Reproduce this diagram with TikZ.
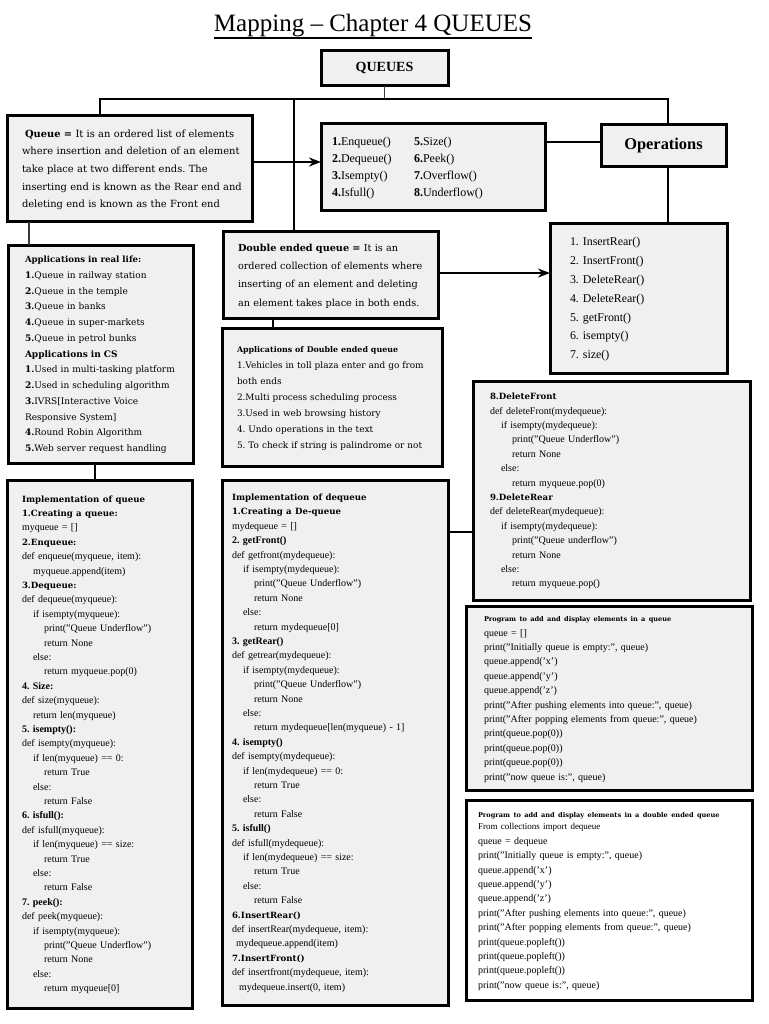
\documentclass[tikz,border=0pt]{standalone}
\usepackage{fontspec}
\setmainfont{Liberation Serif}
\newfontfamily\wideserif{DejaVu Serif}
\usepackage{tikz}
\usetikzlibrary{arrows.meta, positioning, calc}
\definecolor{qgray}{HTML}{F0F0F0}
\definecolor{qline}{HTML}{000000}
\definecolor{qstem}{HTML}{3A3A3A}
\frenchspacing
\newcommand{\boxlines}[1]{\begin{tabular}{@{}l@{}}#1\end{tabular}}
\newcommand{\hd}[2][8.6]{{\wideserif\bfseries\fontsize{#1}{12}\selectfont #2}}
\newcommand{\indA}{\hspace*{11pt}}
\newcommand{\indB}{\hspace*{22pt}}
\newcommand{\codefont}{\fontsize{10}{14.4}\selectfont}

\begin{document}
\begin{tikzpicture}[x=1pt, y=-1pt,
    qbox/.style={draw=qline, line width=3pt, fill=qgray, anchor=north west,
      outer sep=0pt, inner ysep=0pt, align=left},
    conn/.style={draw=qline, line width=2.7pt},
    stem/.style={draw=qstem, line width=1.3pt},
    arrowline/.style={conn, -{Stealth[length=12pt, width=9pt]}}
  ]
  \path[use as bounding box, fill=white] (0,0) rectangle (768,1024);

  % title
  \node[anchor=base, inner sep=0pt, font=\fontsize{25}{30}\selectfont] (title) at (373,32)
    {Mapping -- Chapter 4 QUEUES};
  \draw[line width=1.6pt] ([yshift=-6pt]title.base west) -- ([yshift=-6pt]title.base east);

  % top row
  \node[qbox, minimum width=127pt, minimum height=35pt,
    font=\bfseries\fontsize{14}{16}\selectfont] (queues) at (321,51) {QUEUES};
  \node[qbox, text width=215pt, inner xsep=15pt, minimum height=106pt,
    font=\wideserif\fontsize{9.9}{17.7}\selectfont] (qdef) at (7,116) {\boxlines{%
    \hspace*{3pt}\textbf{Queue =} It is an ordered list of elements\\
    where insertion and deletion of an element\\
    take place at two different ends. The\\
    inserting end is known as the Rear end and\\
    deleting end is known as the Front end}};
  \node[qbox, text width=202pt, inner xsep=11pt, minimum height=87pt,
    font=\fontsize{12}{17}\selectfont] (opslist) at (321,124) {%
    \begin{tabular}{@{}p{82pt}@{}l@{}}
      \textbf{1.}Enqueue() & \textbf{5.}Size()\\
      \textbf{2.}Dequeue() & \textbf{6.}Peek()\\
      \textbf{3.}Isempty() & \textbf{7.}Overflow()\\
      \textbf{4.}Isfull()  & \textbf{8.}Underflow()
    \end{tabular}};
  \node[qbox, minimum width=125pt, minimum height=42pt,
    font=\bfseries\fontsize{16.4}{20}\selectfont] (operations) at (601,125) {Operations};
  \node[qbox, text width=137pt, inner xsep=20pt, minimum height=149pt,
    font=\fontsize{11.9}{18.8}\selectfont] (dqops) at (550,224) {\boxlines{%
    1. InsertRear()\\ 2. InsertFront()\\ 3. DeleteRear()\\ 4. DeleteRear()\\
    5. getFront()\\ 6. isempty()\\ 7. size()}};

  % applications
  \node[qbox, text width=151pt, inner xsep=17pt, minimum height=218pt,
    font=\wideserif\fontsize{9}{15.75}\selectfont] (apps) at (8,245) {\boxlines{%
    \textbf{\fontsize{8.6}{12}\selectfont Applications in real life:}\\
    \textbf{1.}Queue in railway station\\
    \textbf{2.}Queue in the temple\\
    \textbf{3.}Queue in banks\\
    \textbf{4.}Queue in super-markets\\
    \textbf{5.}Queue in petrol bunks\\
    \textbf{Applications in CS}\\
    \textbf{1.}Used in multi-tasking platform\\
    \textbf{2.}Used in scheduling algorithm\\
    \textbf{3.}IVRS[Interactive Voice\\
    Responsive System]\\
    \textbf{4.}Round Robin Algorithm\\
    \textbf{5.}Web server request handling}};
  \node[qbox, text width=185pt, inner xsep=15pt, minimum height=86pt,
    font=\wideserif\fontsize{9.7}{18.3}\selectfont] (deq) at (223,232) {\boxlines{%
    \textbf{Double ended queue =} It is an\\
    ordered collection of elements where\\
    inserting of an element and deleting\\
    an element takes place in both ends.}};
  \node[qbox, text width=190pt, inner xsep=15pt, minimum height=138pt,
    font=\wideserif\fontsize{8.9}{16}\selectfont] (deqapps) at (222,328) {\boxlines{%
    \hd[7.9]{Applications of Double ended queue}\\
    1.Vehicles in toll plaza enter and go from\\
    both ends\\
    2.Multi process scheduling process\\
    3.Used in web browsing history\\
    4. Undo operations in the text\\
    5. To check if string is palindrome or not}};

  % implementations
  \node[qbox, text width=155pt, inner xsep=15pt, minimum height=528pt,
    font=\codefont] (implq) at (7,480) {\boxlines{%
    \hd{Implementation of queue}\\
    \hd{1.Creating a queue:}\\
    myqueue = []\\
    \hd{2.Enqueue:}\\
    def enqueue(myqueue, item):\\
    \indA myqueue.append(item)\\
    \hd{3.Dequeue:}\\
    def dequeue(myqueue):\\
    \indA if isempty(myqueue):\\
    \indB print("Queue Underflow")\\
    \indB return None\\
    \indA else:\\
    \indB return myqueue.pop(0)\\
    \textbf{4. Size:}\\
    def size(myqueue):\\
    \indA return len(myqueue)\\
    \textbf{5. isempty():}\\
    def isempty(myqueue):\\
    \indA if len(myqueue) == 0:\\
    \indB return True\\
    \indA else:\\
    \indB return False\\
    \textbf{6. isfull():}\\
    def isfull(myqueue):\\
    \indA if len(myqueue) == size:\\
    \indB return True\\
    \indA else:\\
    \indB return False\\
    \textbf{7. peek():}\\
    def peek(myqueue):\\
    \indA if isempty(myqueue):\\
    \indB print("Queue Underflow")\\
    \indB return None\\
    \indA else:\\
    \indB return myqueue[0]}};
  \node[qbox, text width=206pt, inner xsep=10pt, minimum height=525pt,
    font=\codefont] (impldq) at (222,480) {\boxlines{%
    \hd{Implementation of dequeue}\\
    \hd{1.Creating a De-queue}\\
    mydequeue = []\\
    \textbf{2. getFront()}\\
    def getfront(mydequeue):\\
    \indA if isempty(mydequeue):\\
    \indB print("Queue Underflow")\\
    \indB return None\\
    \indA else:\\
    \indB return mydequeue[0]\\
    \textbf{3. getRear()}\\
    def getrear(mydequeue):\\
    \indA if isempty(mydequeue):\\
    \indB print("Queue Underflow")\\
    \indB return None\\
    \indA else:\\
    \indB return mydequeue[len(myqueue) - 1]\\
    \textbf{4. isempty()}\\
    def isempty(mydequeue):\\
    \indA if len(mydequeue) == 0:\\
    \indB return True\\
    \indA else:\\
    \indB return False\\
    \textbf{5. isfull()}\\
    def isfull(mydequeue):\\
    \indA if len(mydequeue) == size:\\
    \indB return True\\
    \indA else:\\
    \indB return False\\
    \hd{6.InsertRear()}\\
    def insertRear(mydequeue, item):\\
    \hspace*{4pt}mydequeue.append(item)\\
    \hd{7.InsertFront()}\\
    def insertfront(mydequeue, item):\\
    \hspace*{7pt}mydequeue.insert(0, item)}};

  % right column
  \node[qbox, text width=243pt, inner xsep=17pt, minimum height=219pt,
    font=\codefont] (delbox) at (473,381) {\boxlines{%
    \hd{8.DeleteFront}\\
    def deleteFront(mydequeue):\\
    \indA if isempty(mydequeue):\\
    \indB print("Queue Underflow")\\
    \indB return None\\
    \indA else:\\
    \indB return myqueue.pop(0)\\
    \hd{9.DeleteRear}\\
    def deleteRear(mydequeue):\\
    \indA if isempty(mydequeue):\\
    \indB print("Queue underflow")\\
    \indB return None\\
    \indA else:\\
    \indB return myqueue.pop()}};
  \node[qbox, text width=250pt, inner xsep=18pt, minimum height=184pt,
    font=\codefont] (progq) at (466,606) {\boxlines{%
    \hd[6.6]{Program to add and display elements in a queue}\\
    queue = []\\
    print("Initially queue is empty:", queue)\\
    queue.append('x')\\
    queue.append('y')\\
    queue.append('z')\\
    print("After pushing elements into queue:", queue)\\
    print("After popping elements from queue:", queue)\\
    print(queue.pop(0))\\
    print(queue.pop(0))\\
    print(queue.pop(0))\\
    print("now queue is:", queue)}};
  \node[qbox, fill=white, text width=262pt, inner xsep=12pt, minimum height=200pt,
    font=\codefont] (progdq) at (466,800) {\boxlines{%
    \hd[6.6]{Program to add and display elements in a double ended queue}\\[-2pt]
    {\fontsize{9}{12}\selectfont From collections import dequeue}\\
    queue = dequeue\\
    print("Initially queue is empty:", queue)\\
    queue.append('x')\\
    queue.append('y')\\
    queue.append('z')\\
    print("After pushing elements into queue:", queue)\\
    print("After popping elements from queue:", queue)\\
    print(queue.popleft())\\
    print(queue.popleft())\\
    print(queue.popleft())\\
    print("now queue is:", queue)}};

  % connectors
  \coordinate (busL) at (100,99);
  \coordinate (busM) at (294,99);
  \coordinate (busR) at (668,99);
  \draw[stem] (queues.south) -- (queues.south |- busL);
  \draw[conn] (busL |- qdef.north) -- (busL) -- (busR) -- (busR |- operations.north);
  \draw[conn] (busM) -- (busM |- deq.north);
  \draw[conn] (busR |- operations.south) -- (busR |- dqops.north);
  \draw[arrowline] ([yshift=7pt]qdef.east) -- ([yshift=7pt]qdef.east -| opslist.west);
  \draw[conn] ([yshift=4pt]operations.west) -- ([yshift=4pt]operations.west -| opslist.east);
  \draw[arrowline] ([yshift=2pt]deq.east) -- ([yshift=2pt]deq.east -| dqops.west);
  \draw[stem] ([xshift=22pt]qdef.south west) -- ([xshift=22pt]qdef.south west |- apps.north);
  \draw[conn] ([xshift=87pt]apps.south west) -- ([xshift=87pt]apps.south west |- implq.north);
  \draw[conn] ([xshift=50pt]deq.south west) -- ([xshift=50pt]deq.south west |- deqapps.north);
  \draw[conn] ([yshift=-41.5pt]delbox.west) -- ([yshift=-41.5pt]delbox.west -| impldq.east);
\end{tikzpicture}
\end{document}
